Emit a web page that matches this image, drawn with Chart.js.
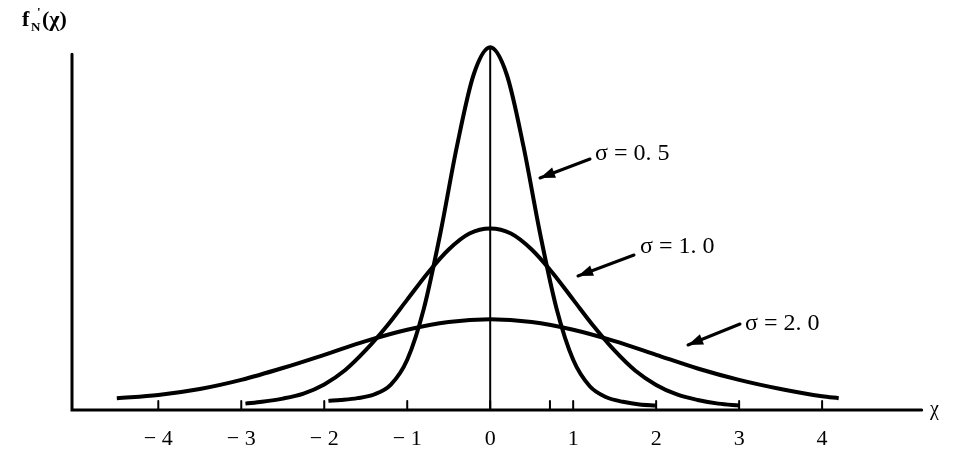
<!DOCTYPE html>
<html>
<head>
<style>
html, body { margin: 0; padding: 0; background: #fff; }
#wrap { width: 959px; height: 455px; position: relative; }
</style>
</head>
<body>
<div id="wrap"><canvas id="canvas"></canvas></div>
<script src="https://cdn.jsdelivr.net/npm/chart.js"></script>
<script>
// values (x in units, height in density units)
const xNarrow = [-1.95, -1.8, -1.6, -1.4, -1.2, -1.0, -0.8, -0.6, -0.4, -0.2, 0, 0.2, 0.4, 0.6, 0.8, 1.0, 1.2, 1.4, 1.6, 1.8, 2.0];
const yNarrow = [0.02, 0.022, 0.026, 0.034, 0.055, 0.11, 0.222, 0.388, 0.579, 0.735, 0.795, 0.735, 0.579, 0.388, 0.222, 0.11, 0.052, 0.028, 0.018, 0.012, 0.01];
const xMid = [-2.95, -2.75, -2.5, -2.25, -2, -1.75, -1.5, -1.25, -1, -0.75, -0.5, -0.25, 0, 0.25, 0.5, 0.75, 1, 1.25, 1.5, 1.75, 2, 2.25, 2.5, 2.75, 3.0];
const yMid = [0.014, 0.018, 0.025, 0.036, 0.056, 0.087, 0.131, 0.183, 0.242, 0.301, 0.352, 0.387, 0.398, 0.387, 0.352, 0.301, 0.242, 0.183, 0.13, 0.086, 0.055, 0.034, 0.022, 0.014, 0.01];
const xWide = [-4.5, -4, -3.5, -3, -2.5, -2, -1.5, -1, -0.5, 0, 0.5, 1, 1.5, 2, 2.5, 3, 3.5, 4, 4.2];
const yWide = [0.026, 0.033, 0.046, 0.066, 0.092, 0.121, 0.151, 0.176, 0.193, 0.199, 0.193, 0.176, 0.151, 0.121, 0.091, 0.066, 0.046, 0.03, 0.026];
const tickVals = [-4, -3, -2, -1, 0, 1, 2, 3, 4];
const tickLabels = ["− 4", "− 3", "− 2", "− 1", "0", "1", "2", "3", "4"];
const curveLabels = ["σ = 0. 5", "σ = 1. 0", "σ = 2. 0"];

function pts(xs, ys) { return xs.map((x, i) => ({x: x, y: ys[i]})); }

const SERIF = '"Liberation Serif", "DejaVu Serif", serif';

const drawExtras = {
  id: 'extras',
  afterDatasetsDraw(chart) {
    const c = chart.ctx, xs = chart.scales.x, ys = chart.scales.y;
    const y0 = ys.getPixelForValue(0);
    c.save();
    c.strokeStyle = '#000'; c.fillStyle = '#000'; c.lineCap = 'round';
    // axes
    c.lineWidth = 3;
    c.beginPath();
    c.moveTo(xs.getPixelForValue(-5.04), ys.getPixelForValue(0.78));
    c.lineTo(xs.getPixelForValue(-5.04), y0);
    c.lineTo(xs.getPixelForValue(5.2), y0);
    c.stroke();
    // centre line
    c.lineWidth = 2;
    c.beginPath();
    c.moveTo(xs.getPixelForValue(0), ys.getPixelForValue(0.79));
    c.lineTo(xs.getPixelForValue(0), y0);
    c.stroke();
    // ticks and labels
    c.font = '22px ' + SERIF; c.textAlign = 'center'; c.textBaseline = 'top';
    tickVals.forEach((v, i) => {
      const px = xs.getPixelForValue(v);
      c.beginPath(); c.moveTo(px, y0); c.lineTo(px, y0 - 9); c.stroke();
      c.fillText(tickLabels[i], px, y0 + 18);
    });
    const p7 = xs.getPixelForValue(0.72);
    c.beginPath(); c.moveTo(p7, y0); c.lineTo(p7, y0 - 9); c.stroke();
    // axis titles
    c.textAlign = 'left'; c.textBaseline = 'middle';
    c.font = 'bold 22px ' + SERIF; c.fillText('f', 22, 20);
    c.font = 'bold 13px ' + SERIF; c.fillText('N', 31, 28); c.fillText("'", 37, 13);
    c.font = 'bold 22px ' + SERIF; c.fillText('(χ)', 42, 20);
    c.font = '20px ' + SERIF; c.fillText('χ', 930, y0);
    // annotations with arrows (tail x, tail y, head x, head y, text x, text y)
    const notes = [[590, 159, 540, 178, 595, 154], [634, 255, 578, 276, 640, 247], [740, 324, 688, 345, 745, 324]];
    notes.forEach((n, i) => {
      c.lineWidth = 3;
      c.beginPath(); c.moveTo(n[0], n[1]); c.lineTo(n[2], n[3]); c.stroke();
      const a = Math.atan2(n[3] - n[1], n[2] - n[0]);
      c.beginPath();
      c.moveTo(n[2], n[3]);
      c.lineTo(n[2] - 16 * Math.cos(a - 0.35), n[3] - 16 * Math.sin(a - 0.35));
      c.lineTo(n[2] - 16 * Math.cos(a + 0.35), n[3] - 16 * Math.sin(a + 0.35));
      c.closePath(); c.fill();
      c.font = '24px ' + SERIF; c.textAlign = 'left';
      c.fillText(curveLabels[i], n[4], n[5]);
    });
    c.restore();
  }
};

const common = { showLine: true, pointRadius: 0, borderColor: '#000', borderWidth: 4, cubicInterpolationMode: 'monotone', fill: false };

new Chart(document.getElementById('canvas'), {
  type: 'scatter',
  data: {
    datasets: [
      Object.assign({ data: pts(xNarrow, yNarrow) }, common),
      Object.assign({ data: pts(xMid, yMid) }, common),
      Object.assign({ data: pts(xWide, yWide) }, common)
    ]
  },
  options: {
    responsive: true, maintainAspectRatio: false, animation: false,
    layout: { padding: { left: 72, right: 34, top: 20, bottom: 45 } },
    plugins: { legend: { display: false }, tooltip: { enabled: false } },
    scales: {
      x: { type: 'linear', min: -5.04, max: 5.24, display: false },
      y: { type: 'linear', min: 0, max: 0.855, display: false }
    }
  },
  plugins: [drawExtras]
});
</script>
</body>
</html>
